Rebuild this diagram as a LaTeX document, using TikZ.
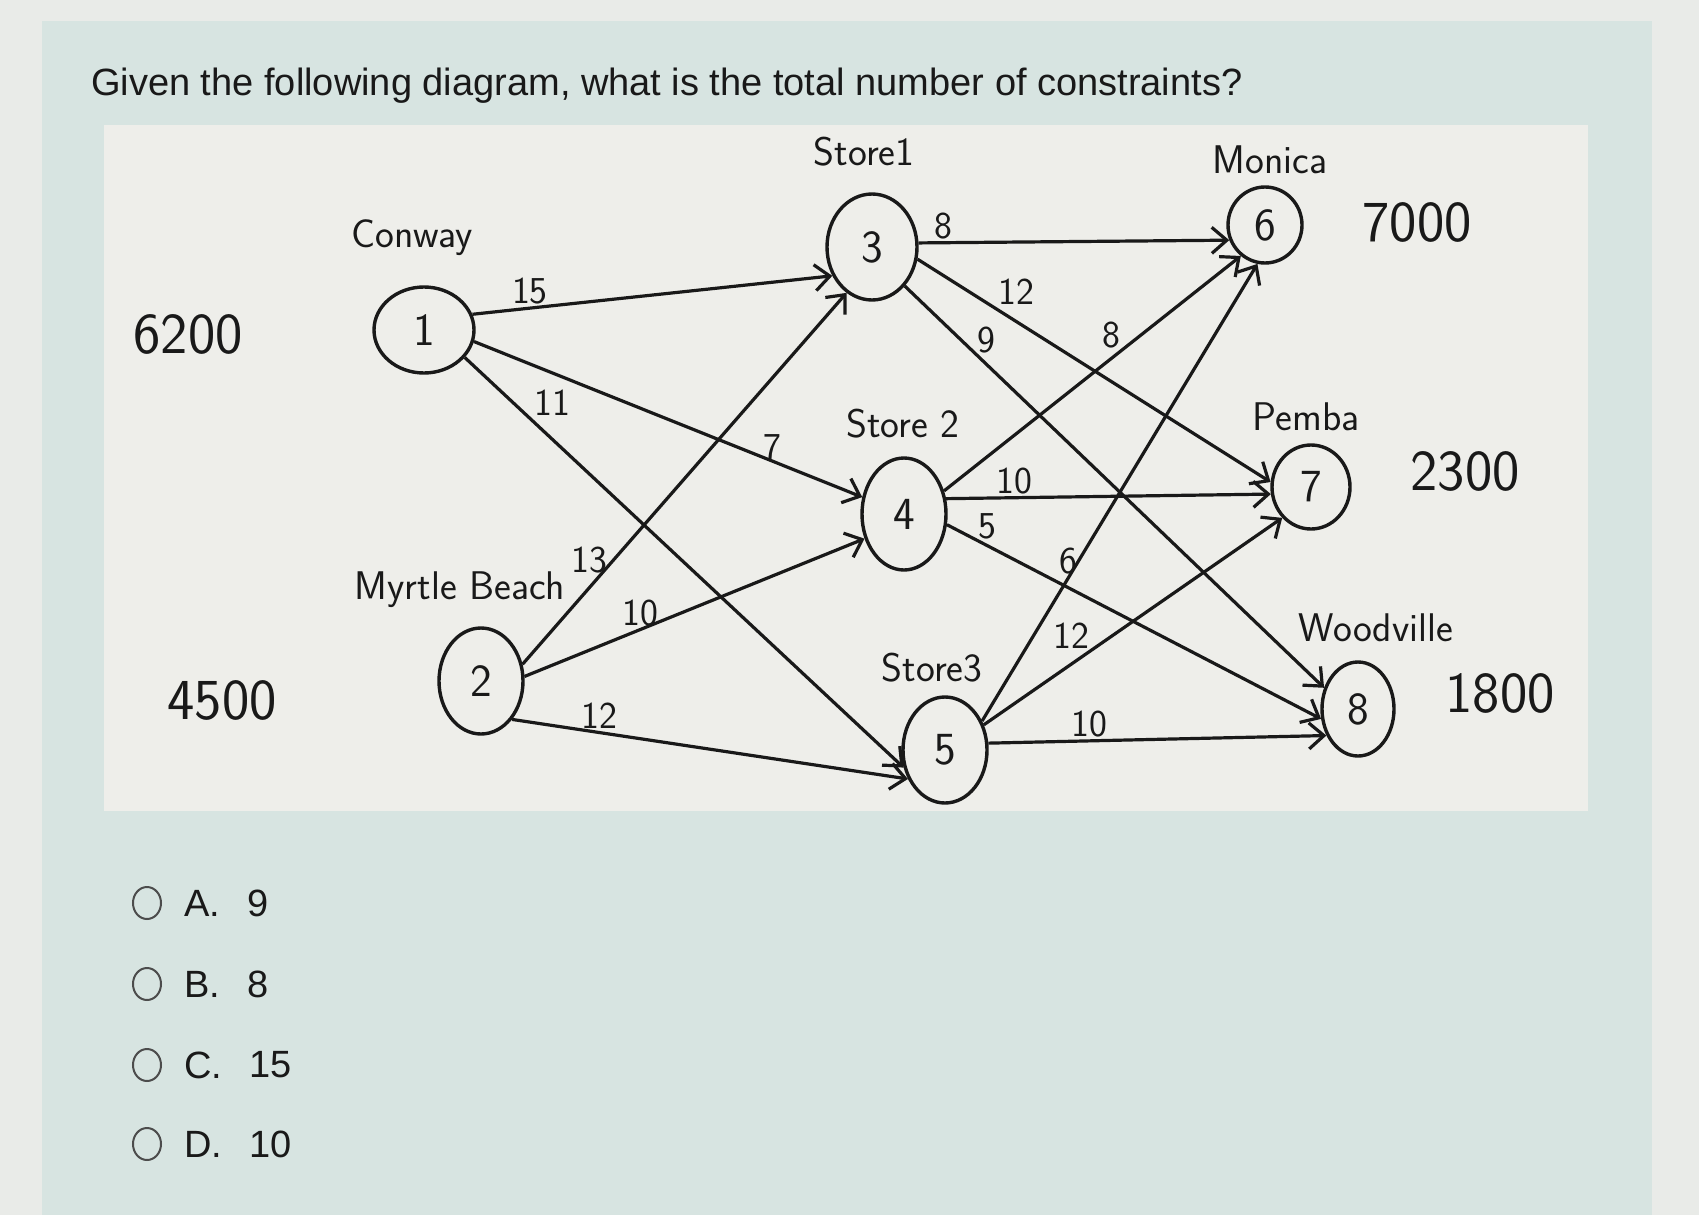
\documentclass[tikz,border=0pt]{standalone}
\usepackage{fontspec}
\newfontfamily\qfont{Liberation Sans}
\usetikzlibrary{shapes.geometric, arrows.meta}
\definecolor{pagebg}{RGB}{233,235,232}
\definecolor{panel}{RGB}{215,228,225}
\definecolor{paper}{RGB}{238,238,234}
\definecolor{ink}{RGB}{25,25,25}

\begin{document}
\begin{tikzpicture}[x=1pt,y=-1pt,>={Straight Barb[length=15pt,width=26pt]},
    link/.style={color=ink,line width=3.2pt},
    site/.style={ellipse,draw=ink,line width=3.4pt,inner sep=0pt,text=ink,font=\sffamily\fontsize{46}{46}\selectfont},
    cost/.style={font=\sffamily\fontsize{38}{38}\selectfont,inner sep=2pt,text=ink},
    place/.style={font=\sffamily\fontsize{40}{40}\selectfont,text=ink},
    supply/.style={font=\sffamily\fontsize{58}{58}\selectfont,text=ink},
    txt/.style={font=\qfont\fontsize{38}{38}\selectfont,text=ink,inner sep=0pt},
    radio/.style={ellipse,draw=black!70,line width=2pt,minimum width=28pt,minimum height=32pt,inner sep=0pt}]
    \useasboundingbox (0,0) rectangle (1699,1215);
    \fill[pagebg] (0,0)     rectangle (1699,1215);
    \fill[panel]  (42,21)   rectangle (1652,1215);
    \fill[paper]  (104,125) rectangle (1588,811);

    \node[txt,anchor=base west] (q) at (91,95) {Given the following diagram, what is the total number of constraints?};

    % sources, stores, customers
    \node[site,minimum width=100pt,minimum height=86pt]  (n1) at (424,330)  {1};
    \node[site,minimum width=84pt,minimum height=106pt]  (n2) at (481,681)  {2};
    \node[site,minimum width=90pt,minimum height=106pt]  (n3) at (872,247)  {3};
    \node[site,minimum width=84pt,minimum height=112pt]  (n4) at (904,514)  {4};
    \node[site,minimum width=84pt,minimum height=106pt]  (n5) at (945,750)  {5};
    \node[site,minimum width=74pt,minimum height=76pt]   (n6) at (1265,225) {6};
    \node[site,minimum width=78pt,minimum height=84pt]   (n7) at (1311,487) {7};
    \node[site,minimum width=72pt,minimum height=94pt]   (n8) at (1358,709) {8};

    \node[place] (conway)    at (412,238)  {Conway};
    \node[place] (myrtle)    at (460,590)  {Myrtle Beach};
    \node[place] (store1)    at (864,152)  {Store1};
    \node[place] (store2)    at (903,424)  {Store 2};
    \node[place] (store3)    at (932,668)  {Store3};
    \node[place] (monica)    at (1270,160) {Monica};
    \node[place] (pemba)     at (1306,417) {Pemba};
    \node[place] (woodville) at (1376,628) {Woodville};

    \node[supply] (s1) at (188,334)  {6200};
    \node[supply] (s2) at (222,700)  {4500};
    \node[supply] (d6) at (1417,222) {7000};
    \node[supply] (d7) at (1465,471) {2300};
    \node[supply] (d8) at (1500,693) {1800};

    \path[->,link] (n1.18)  edge node[cost,pos=.16,above]                    {15} (n3.216);
    \path[->,link] (n1.-13) edge node[cost,pos=.77,above,inner sep=0pt]      {7}  (n4.158);
    \path[->,link] (n1.-34) edge node[cost,pos=.15,above right]              {11} (n5.203);
    \path[->,link] (n2.22)  edge node[cost,pos=.28,left,inner sep=4pt]       {13} (n3.241);
    \path[->,link] (n2.6)   edge node[cost,pos=.34,above]                    {10} (n4.212);
    \path[->,link] (n2.-51) edge node[cost,pos=.22,above]                    {12} (n5.218);
    \path[->,link] (n3.5)   edge node[cost,pos=.08,above]                    {8}  (n6.203);
    \path[->,link] (n3.-15) edge node[cost,pos=.22,above right]              {12} (n7.173);
    \path[->,link] (n3.-50) edge node[cost,pos=.17,above right,inner sep=0pt] {9} (n8.148);
    \path[->,link] (n4.30)  edge node[cost,pos=.6,above left,inner sep=0pt]  {8}  (n6.232);
    \path[->,link] (n4.20)  edge node[cost,pos=.21,above]                    {10} (n7.190);
    \path[->,link] (n4.-14) edge node[cost,pos=.08,above right,inner sep=0pt] {5} (n8.195);
    \path[->,link] (n5.38)  edge node[cost,pos=.35,left,inner sep=0pt]       {6}  (n6.259);
    \path[->,link] (n5.33)  edge node[cost,pos=.36,above left,inner sep=0pt] {12} (n7.227);
    \path[->,link] (n5.9)   edge node[cost,pos=.30,above]                    {10} (n8.220);

    % answer choices
    \node[radio] (r1) at (147,903)  {};
    \node[radio] (r2) at (147,984)  {};
    \node[radio] (r3) at (147,1065) {};
    \node[radio] (r4) at (147,1144) {};
    \node[txt,anchor=west] (a1) at (184,903)  {A.};
    \node[txt,anchor=west] (a2) at (184,984)  {B.};
    \node[txt,anchor=west] (a3) at (184,1065) {C.};
    \node[txt,anchor=west] (a4) at (184,1144) {D.};
    \node[txt,anchor=west] (v1) at (247,903)  {9};
    \node[txt,anchor=west] (v2) at (247,984)  {8};
    \node[txt,anchor=west] (v3) at (249,1065) {15};
    \node[txt,anchor=west] (v4) at (249,1144) {10};
\end{tikzpicture}
\end{document}
